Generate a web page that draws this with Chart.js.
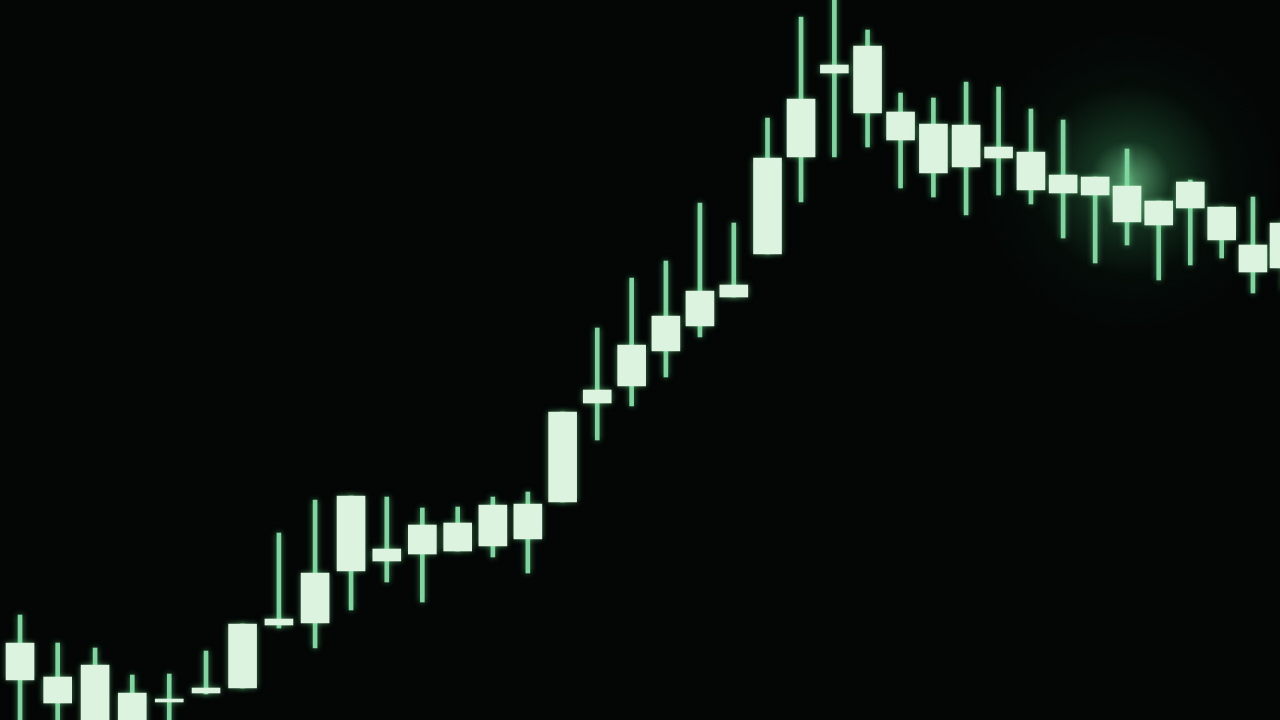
<!DOCTYPE html>
<html>
<head>
<meta charset="utf-8">
<script src="https://cdn.jsdelivr.net/npm/chart.js@4.4.1/dist/chart.umd.min.js"></script>
<style>
    html, body { margin: 0; padding: 0; }
    body {
        width: 1280px; height: 720px; overflow: hidden;
        background:
            radial-gradient(circle at 1130px 180px, rgba(110, 200, 140, 0.75) 0px, rgba(50, 130, 80, 0.35) 40px, rgba(20, 60, 35, 0.12) 95px, rgba(10, 30, 20, 0) 150px),
            #030605;
    }
    #wrap { position: relative; width: 1280px; height: 720px; }
</style>
</head>
<body>
<div id="wrap"><canvas id="candleChart"></canvas></div>
<script>
// Sessões (dia) e preços OHLC
const days  = [171, 172, 173, 174, 175, 176, 177, 178, 179, 180, 181, 182, 183, 184, 185, 186, 187, 188, 189,
               190, 191, 192, 193, 194, 195, 196, 197, 198, 199, 200, 201, 202, 203, 204, 205, 206, 207, 208];
const open  = [40, 43, -10, -10, 18, 27, 32, 95, 97, 149, 159, 166, 169, 174, 181, 218, 317, 334, 369,
               394, 423, 466, 563, 647, 674, 608, 547, 595, 573, 568, 545, 543, 498, 519, 512, 513, 475, 452];
const high  = [105, 77, 72, 45, 46, 69, 96, 187, 220, 224, 223, 212, 213, 223, 228, 308, 392, 442, 459,
               517, 497, 602, 703, 725, 690, 627, 622, 638, 633, 611, 600, 543, 571, 519, 540, 513, 523, 500];
const low   = [-15, -20, -20, -20, -20, 26, 32, 92, 72, 110, 138, 118, 169, 163, 147, 218, 280, 314, 343,
               383, 423, 466, 518, 563, 573, 532, 523, 505, 525, 516, 482, 457, 475, 440, 455, 462, 427, 430];
const close = [77, 17, 55, 27, 21, 32, 96, 101, 147, 224, 171, 195, 197, 215, 216, 308, 330, 375, 404,
               429, 435, 562, 621, 655, 607, 580, 596, 553, 562, 530, 527, 525, 534, 495, 538, 480, 448, 497];

const wickData = days.map((d, i) => ({ x: d, y: [low[i], high[i]] }));
const bodyData = days.map((d, i) => ({ x: d, y: [open[i], close[i]] }));

// brilho suave nas velas
const glowPlugin = {
    id: 'glow',
    beforeDatasetsDraw(chart) {
        chart.ctx.save();
        chart.ctx.shadowColor = 'rgba(120, 230, 150, 0.55)';
        chart.ctx.shadowBlur = 6;
    },
    afterDatasetsDraw(chart) {
        chart.ctx.restore();
    }
};

const ctx = document.getElementById('candleChart').getContext('2d');
new Chart(ctx, {
    type: 'bar',
    data: {
        datasets: [{
            label: 'Corpo',
            data: bodyData,
            backgroundColor: '#dcf4df',
            borderWidth: 0,
            barThickness: 28,
            grouped: false,
            order: 0
        }, {
            label: 'Pavio',
            data: wickData,
            backgroundColor: '#7fd6a0',
            borderWidth: 0,
            barThickness: 4,
            grouped: false,
            order: 1
        }]
    },
    options: {
        responsive: true,
        maintainAspectRatio: false,
        animation: false,
        layout: { padding: 0 },
        plugins: {
            legend: { display: false },
            tooltip: { enabled: false }
        },
        scales: {
            x: { type: 'logarithmic', min: 170.47, max: 207.87, display: false, offset: false },
            y: { type: 'linear', min: 0, max: 720, display: false }
        }
    },
    plugins: [glowPlugin]
});
</script>
</body>
</html>
